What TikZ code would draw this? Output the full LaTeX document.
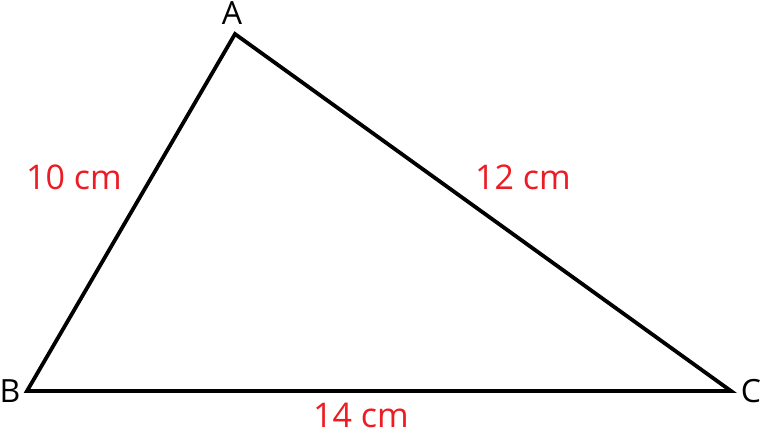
\documentclass[tikz,border=0pt]{standalone}
\usepackage{fontspec}
\setmainfont{Open Sans}
\definecolor{lblred}{HTML}{ED1C24}
\begin{document}
\begin{tikzpicture}[x=1pt,y=-1pt,
  vlabel/.style={font=\fontsize{32}{38}\selectfont, text=black, inner sep=0pt, anchor=base},
  slabel/.style={font=\fontsize{34}{40}\selectfont, text=lblred, inner sep=0pt, anchor=base},
  side/.style={draw=black, line width=3.8pt, line join=miter}]
\useasboundingbox (0,0) rectangle (761,434);
\coordinate (A) at (235,34);
\coordinate (B) at (27,391);
\coordinate (C) at (731,391);
\draw[side] (A) -- (B) -- (C) -- cycle;
\node[vlabel] (lA) at (232,24) {A};
\node[vlabel] (lB) at (10,402) {B};
\node[vlabel] (lC) at (751,402) {C};
\node[slabel] (sAB) at (74,189) {10 cm};
\node[slabel] (sAC) at (523,189) {12 cm};
\node[slabel] (sBC) at (361,427) {14 cm};
\end{tikzpicture}
\end{document}
